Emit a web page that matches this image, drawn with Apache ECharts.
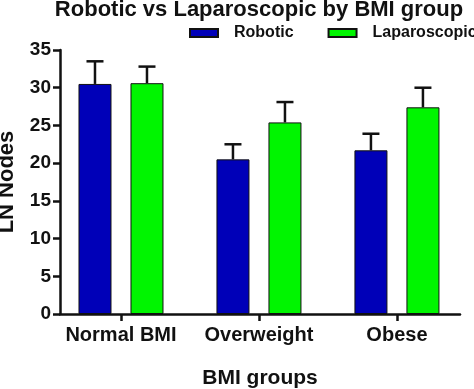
<!DOCTYPE html>
<html>
<head>
<meta charset="utf-8">
<script src="https://cdn.jsdelivr.net/npm/echarts@6/dist/echarts.min.js"></script>
<style>html,body{margin:0;padding:0;background:#fff;}#c{width:474px;height:389px;}</style>
</head>
<body>
<div id="c"></div>
<script>
const categories = ['Normal BMI', 'Overweight', 'Obese'];
const roboticMean = [30.5, 20.5, 21.7];
const roboticUpper = [33.5, 22.5, 23.9];
const laparoMean = [30.6, 25.4, 27.4];
const laparoUpper = [32.8, 28.1, 30.0];
const yTicks = [0, 5, 10, 15, 20, 25, 30, 35];

const BAR_W = 33, BAR_GAP = 19;
const OFFS = (BAR_W + BAR_GAP) / 2;

const chart = echarts.init(document.getElementById('c'), null, {renderer: 'canvas'});
const FONT = 'Liberation Sans, Arial, sans-serif';

function errSeries(name, mean, upper, offset) {
  return {
    type: 'custom',
    name: name + ' err',
    z: 5,
    data: mean.map((m, i) => [i, m, upper[i]]),
    renderItem: function (params, api) {
      const b = api.coord([api.value(0), api.value(1)]);
      const t = api.coord([api.value(0), api.value(2)]);
      const x = b[0] + offset;
      return {
        type: 'group',
        children: [
          {type: 'line', shape: {x1: x, y1: b[1], x2: x, y2: t[1]}, style: {stroke: '#111', lineWidth: 2.5}},
          {type: 'line', shape: {x1: x - 8.5, y1: t[1], x2: x + 8.5, y2: t[1]}, style: {stroke: '#111', lineWidth: 2.5}}
        ]
      };
    }
  };
}

chart.setOption({
  animation: false,
  backgroundColor: '#fff',
  title: {
    text: 'Robotic vs Laparoscopic by BMI group',
    left: 259, textAlign: 'center', top: -1, padding: 0,
    textStyle: {fontFamily: FONT, fontWeight: 'bold', fontSize: 22, color: '#111'}
  },
  legend: {
    data: ['Robotic', 'Laparoscopic'],
    orient: 'horizontal',
    left: 189, top: 25, padding: 0, width: 400,
    itemWidth: 28, itemHeight: 8, itemGap: 34,
    icon: 'rect',
    textStyle: {fontFamily: FONT, fontWeight: 'bold', fontSize: 16, color: '#111', padding: [0, 0, 0, 11]}
  },
  grid: {left: 60, right: 14, top: 50, bottom: 75, containLabel: false, outerBoundsMode: 'none'},
  xAxis: {
    type: 'value',
    min: -0.442, max: 2.457,
    splitLine: {show: false},
    axisLine: {show: true, onZero: false, lineStyle: {color: '#111', width: 2.5}},
    axisTick: {show: true, customValues: [0, 1, 2], length: 7, lineStyle: {color: '#111', width: 2.5}},
    axisLabel: {
      customValues: [0, 1, 2], margin: 11,
      formatter: v => categories[Math.round(v)],
      fontFamily: FONT, fontWeight: 'bold', fontSize: 20, color: '#111'
    },
    name: 'BMI groups', nameLocation: 'middle', nameGap: 54,
    nameTextStyle: {fontFamily: FONT, fontWeight: 'bold', fontSize: 21, color: '#111'}
  },
  yAxis: {
    type: 'value', min: 0, max: 35, interval: 5,
    splitLine: {show: false},
    axisLine: {show: true, onZero: false, lineStyle: {color: '#111', width: 2.5}},
    axisTick: {show: true, length: 7, lineStyle: {color: '#111', width: 2.5}},
    axisLabel: {margin: 9, fontFamily: FONT, fontWeight: 'bold', fontSize: 19, color: '#111',
      formatter: v => yTicks.includes(v) ? String(v) : ''},
    name: 'LN Nodes', nameLocation: 'middle', nameGap: 42,
    nameTextStyle: {fontFamily: FONT, fontWeight: 'bold', fontSize: 22, color: '#111'}
  },
  series: [
    {
      name: 'Robotic', type: 'bar', barWidth: BAR_W, barGap: (BAR_GAP / BAR_W * 100) + '%',
      itemStyle: {color: '#0000b8', borderColor: '#111', borderWidth: 1},
      data: roboticMean.map((m, i) => [i, m])
    },
    {
      name: 'Laparoscopic', type: 'bar', barWidth: BAR_W, barGap: (BAR_GAP / BAR_W * 100) + '%',
      itemStyle: {color: '#00f500', borderColor: '#111', borderWidth: 1},
      data: laparoMean.map((m, i) => [i, m])
    },
    errSeries('Robotic', roboticMean, roboticUpper, -OFFS),
    errSeries('Laparoscopic', laparoMean, laparoUpper, OFFS)
  ]
});
</script>
</body>
</html>
